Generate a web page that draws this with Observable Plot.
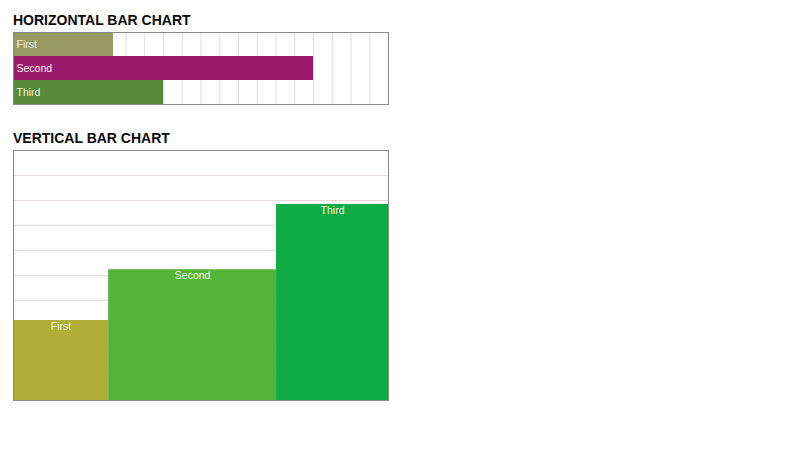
<!DOCTYPE html>
<html>
<head>
<meta charset="utf-8">
<script src="https://cdn.jsdelivr.net/npm/d3@7"></script>
<script src="https://cdn.jsdelivr.net/npm/@observablehq/plot@0.6"></script>
<style>
  body { margin: 0; background: #fff; font-family: "Liberation Sans", Arial, sans-serif; }
  #wrap { position: relative; width: 800px; height: 450px; }
  .title { position: absolute; left: 13px; font-weight: bold; font-size: 14px; color: #0a0a0a; line-height: 1; }
  .chart { position: absolute; left: 0; top: 0; }
</style>
</head>
<body>
<div id="wrap">
  <div class="chart" id="c1"></div>
  <div class="chart" id="c2"></div>
  <div class="title" style="top:13px">HORIZONTAL BAR CHART</div>
  <div class="title" style="top:131px">VERTICAL BAR CHART</div>
</div>
<script>
// Horizontal bar chart data
const hCategories = ["First", "Second", "Third"];
const hValues = [20, 60, 30];
const hColors = ["#979a62", "#9c1a6e", "#568b3a"];
const hMax = 75;
const hGridStep = 3.75;

// Vertical bar chart data
const vCategories = ["First", "Second", "Third"];
const vWidths = [17, 30, 20];
const vHeights = [32, 52.3, 78.4];
const vColors = ["#b0ae36", "#53b538", "#0fac45"];
const vMax = 100;
const vGridStep = 10;

const hData = hCategories.map((c, i) => ({cat: c, value: hValues[i], color: hColors[i]}));
let acc = 0;
const vData = vCategories.map((c, i) => {
  const d = {cat: c, x1: acc, x2: acc + vWidths[i], h: vHeights[i], color: vColors[i]};
  acc += vWidths[i];
  return d;
});
const vTotal = acc;

const gridColor = "#e6dada";
const frameColor = "#8a8a8a";
const labelColor = "#f3f3ea";

const c1 = Plot.plot({
  width: 400, height: 110,
  marginLeft: 13, marginRight: 12, marginTop: 32, marginBottom: 6,
  style: {fontFamily: "Liberation Sans, Arial, sans-serif", background: "transparent"},
  x: {domain: [0, hMax], axis: null},
  y: {domain: hCategories, axis: null, padding: 0},
  marks: [
    Plot.ruleX(d3.range(hGridStep, hMax, hGridStep), {stroke: gridColor, strokeWidth: 1}),
    Plot.barX(hData, {x: "value", y: "cat", fill: "color", inset: 0}),
    Plot.text(hData, {x: 0, y: "cat", text: "cat", textAnchor: "start", dx: 3, fill: labelColor, fontSize: 10.5}),
    Plot.frame({stroke: frameColor})
  ]
});
document.getElementById("c1").appendChild(c1);

const c2 = Plot.plot({
  width: 400, height: 410,
  marginLeft: 13, marginRight: 12, marginTop: 150, marginBottom: 10,
  style: {fontFamily: "Liberation Sans, Arial, sans-serif", background: "transparent"},
  x: {domain: [0, vTotal], axis: null},
  y: {domain: [0, vMax], axis: null},
  marks: [
    Plot.ruleY(d3.range(vGridStep, vMax, vGridStep), {stroke: gridColor, strokeWidth: 1}),
    Plot.rectY(vData, {x1: "x1", x2: "x2", y: "h", fill: "color", inset: 0}),
    Plot.text(vData, {x: d => (d.x1 + d.x2) / 2, y: "h", text: "cat", lineAnchor: "top", dy: 2, fill: labelColor, fontSize: 10.5}),
    Plot.frame({stroke: frameColor})
  ]
});
document.getElementById("c2").appendChild(c2);
</script>
</body>
</html>
